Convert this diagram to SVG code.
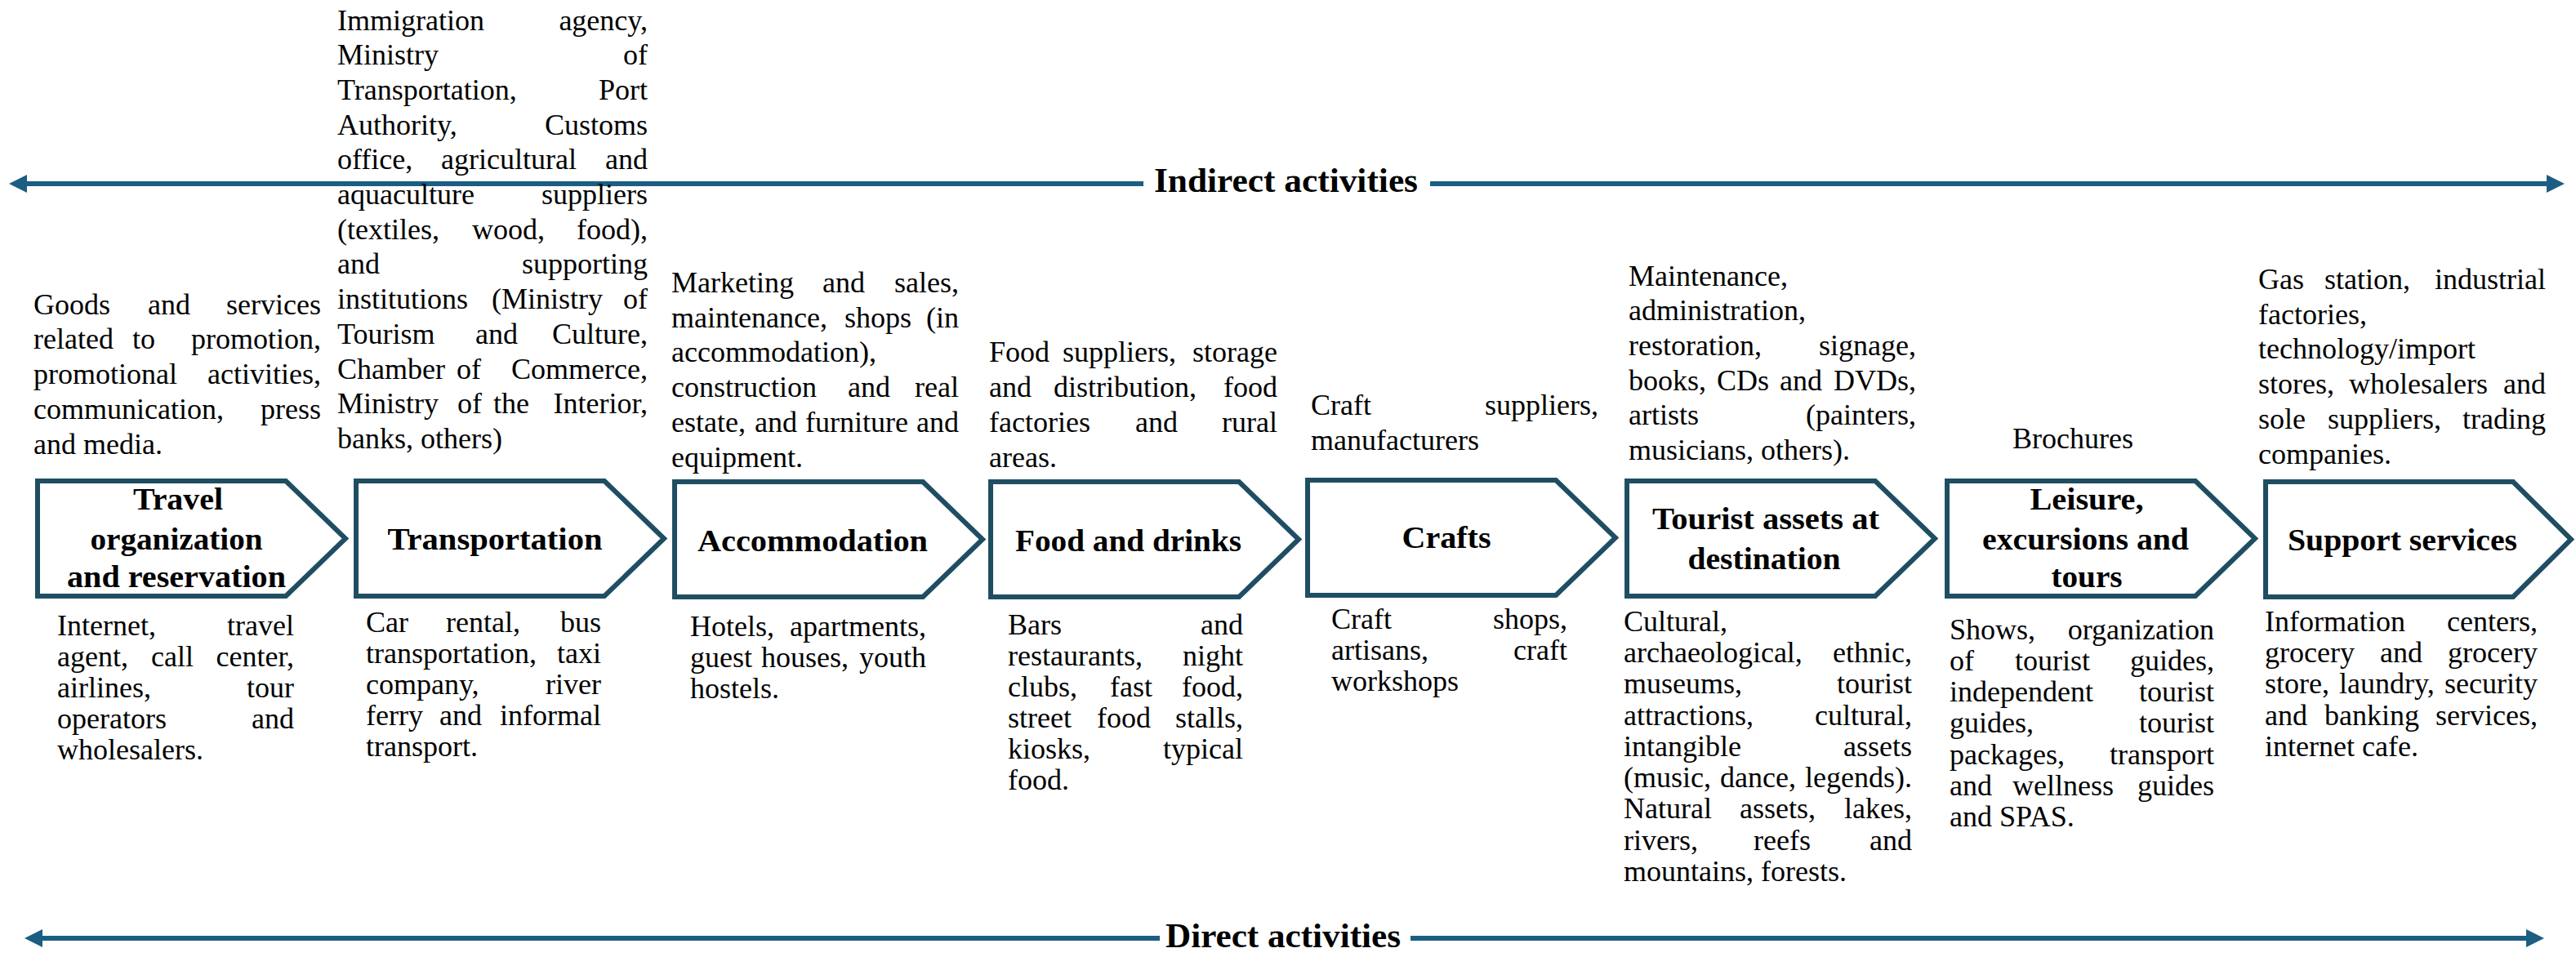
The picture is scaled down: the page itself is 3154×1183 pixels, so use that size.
<svg xmlns="http://www.w3.org/2000/svg" width="3154" height="1183" viewBox="0 0 3154 1183">
<style>
.t{font-family:"Liberation Serif","Times New Roman",serif;font-size:36px;fill:#000}
.b{font-family:"Liberation Serif","Times New Roman",serif;font-size:38px;font-weight:bold;fill:#000}
.h{font-family:"Liberation Serif","Times New Roman",serif;font-size:42px;font-weight:bold;fill:#000}
.box{fill:#fff;stroke:#1F4E63;stroke-width:6;stroke-linejoin:miter}
.ar{fill:none;stroke:#1B5E82;stroke-width:6}
.e{text-anchor:end}
</style>
<defs>
<marker id="ah" viewBox="0 0 22 22" markerWidth="22" markerHeight="22" refX="2" refY="11" markerUnits="userSpaceOnUse" orient="auto-start-reverse">
<path d="M0,0 L22,11 L0,22 z" fill="#1B5E82"/>
</marker>
</defs>
<rect width="3154" height="1183" fill="#fff"/>

<g id="connectors">
<path class="ar" d="M31,225 H1400" marker-start="url(#ah)"/>
<path class="ar" d="M1751,225 H3120" marker-end="url(#ah)"/>
<text class="h" x="1413" y="235" textLength="323" lengthAdjust="spacingAndGlyphs">Indirect activities</text>
<path class="ar" d="M50,1149 H1420" marker-start="url(#ah)"/>
<path class="ar" d="M1727,1149 H3095" marker-end="url(#ah)"/>
<text class="h" x="1427" y="1160" textLength="288" lengthAdjust="spacingAndGlyphs">Direct activities</text>
</g>

<g id="node-travel">
<path class="box" d="M46,589 H350 L423,659.5 L350,730 H46 Z"/>
<text class="b" x="163" y="624" textLength="110" lengthAdjust="spacingAndGlyphs">Travel</text>
<text class="b" x="110.5" y="673" textLength="211" lengthAdjust="spacingAndGlyphs">organization</text>
<text class="b" x="82" y="719" textLength="268" lengthAdjust="spacingAndGlyphs">and reservation</text>
<g id="indirect-travel">
<text class="t" y="384.5"><tspan x="41">Goods</tspan><tspan x="181">and</tspan><tspan x="393" class="e">services</tspan></text>
<text class="t" y="427"><tspan x="41">related</tspan><tspan x="162">to</tspan><tspan x="393" class="e">promotion,</tspan></text>
<text class="t" y="470"><tspan x="41">promotional</tspan><tspan x="393" class="e">activities,</tspan></text>
<text class="t" y="513"><tspan x="41">communication,</tspan><tspan x="393" class="e">press</tspan></text>
<text class="t" x="41" y="555.5">and media.</text>
</g>
<g id="direct-travel">
<text class="t" y="777.7"><tspan x="70">Internet,</tspan><tspan x="360" class="e">travel</tspan></text>
<text class="t" y="815.8"><tspan x="70">agent,</tspan><tspan x="185">call</tspan><tspan x="360" class="e">center,</tspan></text>
<text class="t" y="853.9"><tspan x="70">airlines,</tspan><tspan x="360" class="e">tour</tspan></text>
<text class="t" y="892"><tspan x="70">operators</tspan><tspan x="360" class="e">and</tspan></text>
<text class="t" x="70" y="930.1">wholesalers.</text>
</g>
</g>

<g id="node-transportation">
<path class="box" d="M436,589 H740 L813,659.5 L740,730 H436 Z"/>
<text class="b" x="474.5" y="673" textLength="263" lengthAdjust="spacingAndGlyphs">Transportation</text>
<g id="indirect-transportation">
<text class="t" y="36.5"><tspan x="413">Immigration</tspan><tspan x="793" class="e">agency,</tspan></text>
<text class="t" y="79.2"><tspan x="413">Ministry</tspan><tspan x="793" class="e">of</tspan></text>
<text class="t" y="121.9"><tspan x="413">Transportation,</tspan><tspan x="793" class="e">Port</tspan></text>
<text class="t" y="164.6"><tspan x="413">Authority,</tspan><tspan x="793" class="e">Customs</tspan></text>
<text class="t" y="207.3"><tspan x="413">office,</tspan><tspan x="540">agricultural</tspan><tspan x="793" class="e">and</tspan></text>
<text class="t" y="250"><tspan x="413">aquaculture</tspan><tspan x="793" class="e">suppliers</tspan></text>
<text class="t" y="292.7"><tspan x="413">(textiles,</tspan><tspan x="578">wood,</tspan><tspan x="793" class="e">food),</tspan></text>
<text class="t" y="335.4"><tspan x="413">and</tspan><tspan x="793" class="e">supporting</tspan></text>
<text class="t" y="378.1"><tspan x="413">institutions</tspan><tspan x="602">(Ministry</tspan><tspan x="793" class="e">of</tspan></text>
<text class="t" y="420.8"><tspan x="413">Tourism</tspan><tspan x="582">and</tspan><tspan x="793" class="e">Culture,</tspan></text>
<text class="t" y="463.5"><tspan x="413">Chamber</tspan><tspan x="559">of</tspan><tspan x="793" class="e">Commerce,</tspan></text>
<text class="t" y="506.2"><tspan x="413">Ministry</tspan><tspan x="560">of</tspan><tspan x="604">the</tspan><tspan x="793" class="e">Interior,</tspan></text>
<text class="t" x="413" y="548.9">banks, others)</text>
</g>
<g id="direct-transportation">
<text class="t" y="773.5"><tspan x="448">Car</tspan><tspan x="546">rental,</tspan><tspan x="736" class="e">bus</tspan></text>
<text class="t" y="811.6"><tspan x="448">transportation,</tspan><tspan x="736" class="e">taxi</tspan></text>
<text class="t" y="849.7"><tspan x="448">company,</tspan><tspan x="736" class="e">river</tspan></text>
<text class="t" y="887.8"><tspan x="448">ferry</tspan><tspan x="538">and</tspan><tspan x="736" class="e">informal</tspan></text>
<text class="t" x="448" y="925.9">transport.</text>
</g>
</g>

<g id="node-accommodation">
<path class="box" d="M826,590 H1130 L1203,660.5 L1130,731 H826 Z"/>
<text class="b" x="854" y="675" textLength="282" lengthAdjust="spacingAndGlyphs">Accommodation</text>
<g id="indirect-accommodation">
<text class="t" y="358"><tspan x="822">Marketing</tspan><tspan x="1007">and</tspan><tspan x="1174" class="e">sales,</tspan></text>
<text class="t" y="400.7"><tspan x="822">maintenance,</tspan><tspan x="1034">shops</tspan><tspan x="1174" class="e">(in</tspan></text>
<text class="t" x="822" y="443.4">accommodation),</text>
<text class="t" y="486.1"><tspan x="822">construction</tspan><tspan x="1038">and</tspan><tspan x="1174" class="e">real</tspan></text>
<text class="t" y="528.8"><tspan x="822">estate,</tspan><tspan x="924">and</tspan><tspan x="986">furniture</tspan><tspan x="1174" class="e">and</tspan></text>
<text class="t" x="822" y="571.5">equipment.</text>
</g>
<g id="direct-accommodation">
<text class="t" y="778.5"><tspan x="845">Hotels,</tspan><tspan x="1134" class="e">apartments,</tspan></text>
<text class="t" y="816.6"><tspan x="845">guest</tspan><tspan x="932">houses,</tspan><tspan x="1134" class="e">youth</tspan></text>
<text class="t" x="845" y="854.7">hostels.</text>
</g>
</g>

<g id="node-food">
<path class="box" d="M1213,590 H1517 L1590,660.5 L1517,731 H1213 Z"/>
<text class="b" x="1243" y="675" textLength="277" lengthAdjust="spacingAndGlyphs">Food and drinks</text>
<g id="indirect-food">
<text class="t" y="443.4"><tspan x="1211">Food</tspan><tspan x="1301">suppliers,</tspan><tspan x="1564" class="e">storage</tspan></text>
<text class="t" y="486.1"><tspan x="1211">and</tspan><tspan x="1290">distribution,</tspan><tspan x="1564" class="e">food</tspan></text>
<text class="t" y="528.8"><tspan x="1211">factories</tspan><tspan x="1390">and</tspan><tspan x="1564" class="e">rural</tspan></text>
<text class="t" x="1211" y="571.5">areas.</text>
</g>
<g id="direct-food">
<text class="t" y="776.5"><tspan x="1234">Bars</tspan><tspan x="1522" class="e">and</tspan></text>
<text class="t" y="814.6"><tspan x="1234">restaurants,</tspan><tspan x="1522" class="e">night</tspan></text>
<text class="t" y="852.7"><tspan x="1234">clubs,</tspan><tspan x="1359">fast</tspan><tspan x="1522" class="e">food,</tspan></text>
<text class="t" y="890.8"><tspan x="1234">street</tspan><tspan x="1343">food</tspan><tspan x="1522" class="e">stalls,</tspan></text>
<text class="t" y="928.9"><tspan x="1234">kiosks,</tspan><tspan x="1522" class="e">typical</tspan></text>
<text class="t" x="1234" y="967">food.</text>
</g>
</g>

<g id="node-crafts">
<path class="box" d="M1601,588 H1905 L1978,658.5 L1905,729 H1601 Z"/>
<text class="b" x="1716.5" y="671" textLength="109" lengthAdjust="spacingAndGlyphs">Crafts</text>
<g id="indirect-crafts">
<text class="t" y="508"><tspan x="1605">Craft</tspan><tspan x="1957" class="e">suppliers,</tspan></text>
<text class="t" x="1605" y="551">manufacturers</text>
</g>
<g id="direct-crafts">
<text class="t" y="770"><tspan x="1630">Craft</tspan><tspan x="1919" class="e">shops,</tspan></text>
<text class="t" y="808"><tspan x="1630">artisans,</tspan><tspan x="1919" class="e">craft</tspan></text>
<text class="t" x="1630" y="846">workshops</text>
</g>
</g>

<g id="node-tourist-assets">
<path class="box" d="M1992,589 H2296 L2369,659.5 L2296,730 H1992 Z"/>
<text class="b" x="2023" y="648" textLength="278" lengthAdjust="spacingAndGlyphs">Tourist assets at</text>
<text class="b" x="2066.5" y="697" textLength="187" lengthAdjust="spacingAndGlyphs">destination</text>
<g id="indirect-tourist-assets">
<text class="t" x="1994" y="349.5">Maintenance,</text>
<text class="t" x="1994" y="392.2">administration,</text>
<text class="t" y="434.9"><tspan x="1994">restoration,</tspan><tspan x="2346" class="e">signage,</tspan></text>
<text class="t" y="477.6"><tspan x="1994">books,</tspan><tspan x="2102">CDs</tspan><tspan x="2179">and</tspan><tspan x="2346" class="e">DVDs,</tspan></text>
<text class="t" y="520.3"><tspan x="1994">artists</tspan><tspan x="2346" class="e">(painters,</tspan></text>
<text class="t" x="1994" y="563">musicians, others).</text>
</g>
<g id="direct-tourist-assets">
<text class="t" x="1988" y="772.6">Cultural,</text>
<text class="t" y="810.9"><tspan x="1988">archaeological,</tspan><tspan x="2341" class="e">ethnic,</tspan></text>
<text class="t" y="849.2"><tspan x="1988">museums,</tspan><tspan x="2341" class="e">tourist</tspan></text>
<text class="t" y="887.5"><tspan x="1988">attractions,</tspan><tspan x="2341" class="e">cultural,</tspan></text>
<text class="t" y="925.8"><tspan x="1988">intangible</tspan><tspan x="2341" class="e">assets</tspan></text>
<text class="t" y="964.1"><tspan x="1988">(music,</tspan><tspan x="2106">dance,</tspan><tspan x="2341" class="e">legends).</tspan></text>
<text class="t" y="1002.4"><tspan x="1988">Natural</tspan><tspan x="2130">assets,</tspan><tspan x="2341" class="e">lakes,</tspan></text>
<text class="t" y="1040.7"><tspan x="1988">rivers,</tspan><tspan x="2147">reefs</tspan><tspan x="2341" class="e">and</tspan></text>
<text class="t" x="1988" y="1079">mountains, forests.</text>
</g>
</g>

<g id="node-leisure">
<path class="box" d="M2384,589 H2688 L2761,659.5 L2688,730 H2384 Z"/>
<text class="b" x="2485.5" y="624" textLength="139" lengthAdjust="spacingAndGlyphs">Leisure,</text>
<text class="b" x="2427" y="673" textLength="253" lengthAdjust="spacingAndGlyphs">excursions and</text>
<text class="b" x="2511.5" y="719" textLength="87" lengthAdjust="spacingAndGlyphs">tours</text>
<g id="indirect-leisure">
<text class="t" x="2538" y="549" text-anchor="middle">Brochures</text>
</g>
<g id="direct-leisure">
<text class="t" y="782.5"><tspan x="2387">Shows,</tspan><tspan x="2711" class="e">organization</tspan></text>
<text class="t" y="820.8"><tspan x="2387">of</tspan><tspan x="2467">tourist</tspan><tspan x="2711" class="e">guides,</tspan></text>
<text class="t" y="859.1"><tspan x="2387">independent</tspan><tspan x="2711" class="e">tourist</tspan></text>
<text class="t" y="897.4"><tspan x="2387">guides,</tspan><tspan x="2711" class="e">tourist</tspan></text>
<text class="t" y="935.7"><tspan x="2387">packages,</tspan><tspan x="2711" class="e">transport</tspan></text>
<text class="t" y="974"><tspan x="2387">and</tspan><tspan x="2464">wellness</tspan><tspan x="2711" class="e">guides</tspan></text>
<text class="t" x="2387" y="1012.3">and SPAS.</text>
</g>
</g>

<g id="node-support">
<path class="box" d="M2774,590 H3077 L3148,660.5 L3077,731 H2774 Z"/>
<text class="b" x="2801" y="674" textLength="281" lengthAdjust="spacingAndGlyphs">Support services</text>
<g id="indirect-support">
<text class="t" y="354"><tspan x="2765">Gas</tspan><tspan x="2846">station,</tspan><tspan x="3117" class="e">industrial</tspan></text>
<text class="t" x="2765" y="396.7">factories,</text>
<text class="t" x="2765" y="439.4">technology/import</text>
<text class="t" y="482.1"><tspan x="2765">stores,</tspan><tspan x="2876">wholesalers</tspan><tspan x="3117" class="e">and</tspan></text>
<text class="t" y="524.8"><tspan x="2765">sole</tspan><tspan x="2850">suppliers,</tspan><tspan x="3117" class="e">trading</tspan></text>
<text class="t" x="2765" y="567.5">companies.</text>
</g>
<g id="direct-support">
<text class="t" y="772.6"><tspan x="2773">Information</tspan><tspan x="3107" class="e">centers,</tspan></text>
<text class="t" y="810.9"><tspan x="2773">grocery</tspan><tspan x="2914">and</tspan><tspan x="3107" class="e">grocery</tspan></text>
<text class="t" y="849.2"><tspan x="2773">store,</tspan><tspan x="2864">laundry,</tspan><tspan x="3107" class="e">security</tspan></text>
<text class="t" y="887.5"><tspan x="2773">and</tspan><tspan x="2846">banking</tspan><tspan x="3107" class="e">services,</tspan></text>
<text class="t" x="2773" y="925.8">internet cafe.</text>
</g>
</g>
</svg>
